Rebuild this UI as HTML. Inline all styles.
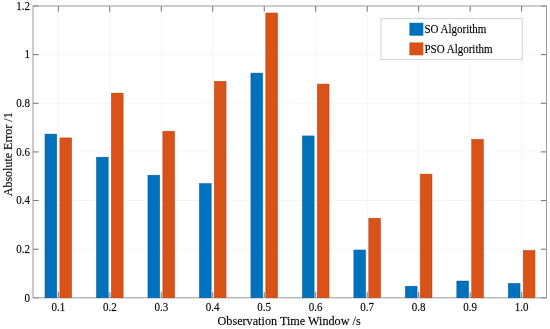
<!DOCTYPE html>
<html><head><meta charset="utf-8"><title>Absolute Error vs Observation Time Window</title><style>html,body{margin:0;padding:0;background:#fff;overflow:hidden}svg{display:block}</style></head>
<body><svg width="550" height="329" viewBox="0 0 550 329" font-family="Liberation Serif, Times New Roman, serif"><style>text{stroke:#000;stroke-width:0.25px;stroke-opacity:0.45}</style><rect width="550" height="329" fill="#fff"/><g stroke="#262626" stroke-opacity="0.07" stroke-width="0.6"><line x1="58.30" y1="6.0" x2="58.30" y2="297.8"/><line x1="109.78" y1="6.0" x2="109.78" y2="297.8"/><line x1="161.26" y1="6.0" x2="161.26" y2="297.8"/><line x1="212.74" y1="6.0" x2="212.74" y2="297.8"/><line x1="264.22" y1="6.0" x2="264.22" y2="297.8"/><line x1="315.70" y1="6.0" x2="315.70" y2="297.8"/><line x1="367.18" y1="6.0" x2="367.18" y2="297.8"/><line x1="418.66" y1="6.0" x2="418.66" y2="297.8"/><line x1="470.14" y1="6.0" x2="470.14" y2="297.8"/><line x1="521.62" y1="6.0" x2="521.62" y2="297.8"/><line x1="33.0" y1="249.21" x2="546.5" y2="249.21"/><line x1="33.0" y1="200.57" x2="546.5" y2="200.57"/><line x1="33.0" y1="151.92" x2="546.5" y2="151.92"/><line x1="33.0" y1="103.28" x2="546.5" y2="103.28"/><line x1="33.0" y1="54.64" x2="546.5" y2="54.64"/></g>
<g stroke="#5a5a5a" stroke-width="0.85" fill="none"><line x1="58.30" y1="297.8" x2="58.30" y2="292.2"/><line x1="58.30" y1="6.0" x2="58.30" y2="11.6"/><line x1="109.78" y1="297.8" x2="109.78" y2="292.2"/><line x1="109.78" y1="6.0" x2="109.78" y2="11.6"/><line x1="161.26" y1="297.8" x2="161.26" y2="292.2"/><line x1="161.26" y1="6.0" x2="161.26" y2="11.6"/><line x1="212.74" y1="297.8" x2="212.74" y2="292.2"/><line x1="212.74" y1="6.0" x2="212.74" y2="11.6"/><line x1="264.22" y1="297.8" x2="264.22" y2="292.2"/><line x1="264.22" y1="6.0" x2="264.22" y2="11.6"/><line x1="315.70" y1="297.8" x2="315.70" y2="292.2"/><line x1="315.70" y1="6.0" x2="315.70" y2="11.6"/><line x1="367.18" y1="297.8" x2="367.18" y2="292.2"/><line x1="367.18" y1="6.0" x2="367.18" y2="11.6"/><line x1="418.66" y1="297.8" x2="418.66" y2="292.2"/><line x1="418.66" y1="6.0" x2="418.66" y2="11.6"/><line x1="470.14" y1="297.8" x2="470.14" y2="292.2"/><line x1="470.14" y1="6.0" x2="470.14" y2="11.6"/><line x1="521.62" y1="297.8" x2="521.62" y2="292.2"/><line x1="521.62" y1="6.0" x2="521.62" y2="11.6"/><line x1="33.0" y1="297.85" x2="38.6" y2="297.85"/><line x1="546.5" y1="297.85" x2="540.9" y2="297.85"/><line x1="33.0" y1="249.21" x2="38.6" y2="249.21"/><line x1="546.5" y1="249.21" x2="540.9" y2="249.21"/><line x1="33.0" y1="200.57" x2="38.6" y2="200.57"/><line x1="546.5" y1="200.57" x2="540.9" y2="200.57"/><line x1="33.0" y1="151.92" x2="38.6" y2="151.92"/><line x1="546.5" y1="151.92" x2="540.9" y2="151.92"/><line x1="33.0" y1="103.28" x2="38.6" y2="103.28"/><line x1="546.5" y1="103.28" x2="540.9" y2="103.28"/><line x1="33.0" y1="54.64" x2="38.6" y2="54.64"/><line x1="546.5" y1="54.64" x2="540.9" y2="54.64"/><line x1="33.0" y1="6.00" x2="38.6" y2="6.00"/><line x1="546.5" y1="6.00" x2="540.9" y2="6.00"/></g>
<g stroke="#9a9a9a" stroke-width="1" fill="none"><rect x="33.0" y="6.0" width="513.5" height="291.8"/></g>
<g stroke-opacity="0.7" stroke-width="0.6"><rect x="44.95" y="134.10" width="11.80" height="163.70" fill="#0072BD" stroke="#00508a"/><rect x="59.85" y="137.90" width="11.80" height="159.90" fill="#D95319" stroke="#a8380a"/><rect x="96.43" y="157.20" width="11.80" height="140.60" fill="#0072BD" stroke="#00508a"/><rect x="111.33" y="93.10" width="11.80" height="204.70" fill="#D95319" stroke="#a8380a"/><rect x="147.91" y="175.20" width="11.80" height="122.60" fill="#0072BD" stroke="#00508a"/><rect x="162.81" y="131.20" width="11.80" height="166.60" fill="#D95319" stroke="#a8380a"/><rect x="199.39" y="183.50" width="11.80" height="114.30" fill="#0072BD" stroke="#00508a"/><rect x="214.29" y="81.30" width="11.80" height="216.50" fill="#D95319" stroke="#a8380a"/><rect x="250.87" y="73.10" width="11.80" height="224.70" fill="#0072BD" stroke="#00508a"/><rect x="265.77" y="13.00" width="11.80" height="284.80" fill="#D95319" stroke="#a8380a"/><rect x="302.35" y="135.90" width="11.80" height="161.90" fill="#0072BD" stroke="#00508a"/><rect x="317.25" y="84.10" width="11.80" height="213.70" fill="#D95319" stroke="#a8380a"/><rect x="353.83" y="250.00" width="11.80" height="47.80" fill="#0072BD" stroke="#00508a"/><rect x="368.73" y="218.20" width="11.80" height="79.60" fill="#D95319" stroke="#a8380a"/><rect x="405.31" y="286.20" width="11.80" height="11.60" fill="#0072BD" stroke="#00508a"/><rect x="420.21" y="174.10" width="11.80" height="123.70" fill="#D95319" stroke="#a8380a"/><rect x="456.79" y="281.00" width="11.80" height="16.80" fill="#0072BD" stroke="#00508a"/><rect x="471.69" y="139.30" width="11.80" height="158.50" fill="#D95319" stroke="#a8380a"/><rect x="508.27" y="283.40" width="11.80" height="14.40" fill="#0072BD" stroke="#00508a"/><rect x="523.17" y="250.40" width="11.80" height="47.40" fill="#D95319" stroke="#a8380a"/></g>
<g fill="#000"><text transform="translate(29.90,301.70) scale(1,1.04)" text-anchor="end" font-size="11">0</text><text transform="translate(29.90,253.06) scale(1,1.04)" text-anchor="end" font-size="11">0.2</text><text transform="translate(29.90,204.42) scale(1,1.04)" text-anchor="end" font-size="11">0.4</text><text transform="translate(29.90,155.77) scale(1,1.04)" text-anchor="end" font-size="11">0.6</text><text transform="translate(29.90,107.13) scale(1,1.04)" text-anchor="end" font-size="11">0.8</text><text transform="translate(29.90,58.49) scale(1,1.04)" text-anchor="end" font-size="11">1</text><text transform="translate(29.90,9.85) scale(1,1.04)" text-anchor="end" font-size="11">1.2</text><text transform="translate(58.30,311.20) scale(1,1.04)" text-anchor="middle" font-size="11">0.1</text><text transform="translate(109.78,311.20) scale(1,1.04)" text-anchor="middle" font-size="11">0.2</text><text transform="translate(161.26,311.20) scale(1,1.04)" text-anchor="middle" font-size="11">0.3</text><text transform="translate(212.74,311.20) scale(1,1.04)" text-anchor="middle" font-size="11">0.4</text><text transform="translate(264.22,311.20) scale(1,1.04)" text-anchor="middle" font-size="11">0.5</text><text transform="translate(315.70,311.20) scale(1,1.04)" text-anchor="middle" font-size="11">0.6</text><text transform="translate(367.18,311.20) scale(1,1.04)" text-anchor="middle" font-size="11">0.7</text><text transform="translate(418.66,311.20) scale(1,1.04)" text-anchor="middle" font-size="11">0.8</text><text transform="translate(470.14,311.20) scale(1,1.04)" text-anchor="middle" font-size="11">0.9</text><text transform="translate(521.62,311.20) scale(1,1.04)" text-anchor="middle" font-size="11">1.0</text><text transform="translate(289.10,324.90) scale(1,1.04)" text-anchor="middle" font-size="12.2">Observation Time Window /s</text><text transform="translate(12,154.3) rotate(-90)" text-anchor="middle" font-size="12">Absolute Error /1</text></g>
<rect x="381" y="18.6" width="141.2" height="41.0" fill="#fff" stroke="#d2d2d2" stroke-width="1"/>
<rect x="409.4" y="22.8" width="13.9" height="12.9" fill="#0072BD"/>
<rect x="409.4" y="42.4" width="13.9" height="12.9" fill="#D95319"/>
<g fill="#000"><text transform="translate(424.40,33.40) scale(1,1.04)" text-anchor="start" font-size="11">SO Algorithm</text><text transform="translate(424.40,53.00) scale(1,1.04)" text-anchor="start" font-size="11">PSO Algorithm</text></g></svg></body></html>
